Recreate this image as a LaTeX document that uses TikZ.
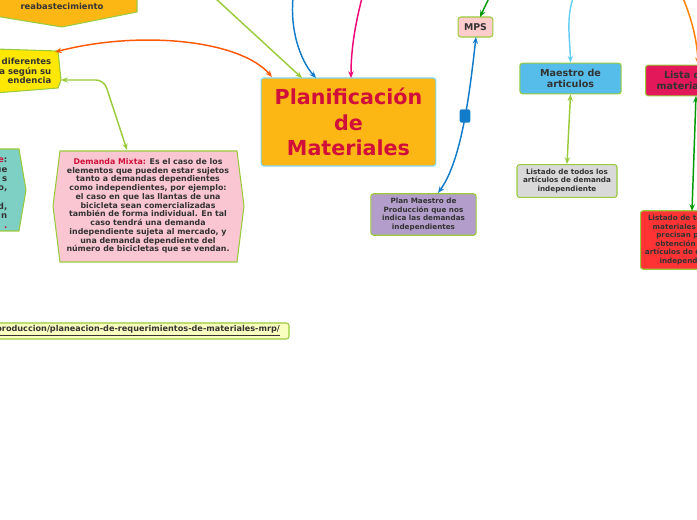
\documentclass[tikz,border=0pt]{standalone}
\usepackage{fontspec}
\setmainfont{DejaVu Sans}
\usetikzlibrary{arrows.meta}
\definecolor{cOr}{HTML}{FDB714}
\definecolor{cRed}{HTML}{D0103A}
\definecolor{cGr}{HTML}{9BCB3C}
\definecolor{cTxt}{HTML}{333333}
\definecolor{cPur}{HTML}{B39DCB}
\definecolor{cBlu}{HTML}{56BDEA}
\definecolor{cCrim}{HTML}{E2185B}
\definecolor{cPink}{HTML}{F9C6D2}
\definecolor{cTeal}{HTML}{7ECFC4}
\begin{document}
\begin{tikzpicture}[x=0.75pt,y=-0.75pt,
 box/.style={draw=cGr,line width=0.8pt,rounded corners=2pt,align=center,text=cTxt,font=\bfseries},
 con/.style={line width=1.1pt,-{Stealth[length=5pt,width=4pt]}},
 bcon/.style={line width=1.1pt,{Stealth[length=5pt,width=4pt]}-{Stealth[length=5pt,width=4pt]}},
 sm/.style={font=\fontsize{5.4}{6.4}\selectfont\bfseries}]
\useasboundingbox (0,0) rectangle (697,520);
\begin{scope}
\clip (0,0) rectangle (697,520);
% top-left orange
\draw[fill=cOr,draw=cGr,line width=0.8pt] (-5,-5) -- (137,-5) -- (137,12) -- (62,27) -- (-5,16) -- cycle;
\node[text=cTxt,font=\fontsize{6.3}{7}\selectfont\bfseries] (reab) at (62,6) {reabastecimiento};
% yellow
\draw[fill=yellow!90!orange,draw=cGr,line width=0.8pt] (-5,49) -- (58,51) -- (61,80) -- (58,88) -- (-5,93) -- cycle;
\node[text=cTxt,align=right,anchor=east,font=\fontsize{6.4}{7.2}\selectfont\bfseries] (yel) at (56,71) {s diferentes\\a según su\\endencia};
\coordinate (yelR) at (61,80);
\coordinate (yelT) at (55,52);
% teal
\draw[fill=cTeal,draw=cGr,line width=0.8pt] (-5,149) -- (19,149) -- (26,190) -- (19,231) -- (-5,231) -- cycle;
\node[text=cTxt,align=right,anchor=north east,font=\fontsize{6.4}{7}\selectfont\bfseries] (teal) at (12,152) {\textcolor{cRed}{te}:\\ue\\s\\lo,\\ \\d,\\n\\\textcolor{cRed}{.}};
% pink
\draw[fill=cPink,draw=cGr,line width=0.8pt] (60,151) -- (237,151) -- (244,206) -- (237,262) -- (60,262) -- (53,206) -- cycle;
\node[text=cTxt,align=center,font=\fontsize{5.9}{6.55}\selectfont\bfseries] (mix) at (148,206) {\textcolor{cRed}{Demanda Mixta:} Es el caso de los\\elementos que pueden estar sujetos\\tanto a demandas dependientes\\como independientes, por ejemplo:\\el caso en que las llantas de una\\bicicleta sean comercializadas\\también de forma individual. En tal\\caso tendrá una demanda\\independiente sujeta al mercado, y\\una demanda dependiente del\\número de bicicletas que se vendan.};
% link
\draw[fill=green!10!yellow!25,draw=cGr,line width=0.8pt,rounded corners=2pt] (-5,323) rectangle (289,339);
\node[text=cTxt,font=\fontsize{6.1}{7}\selectfont\bfseries] (link) at (138,331) {\underline{produccion/planeacion-de-requerimientos-de-materiales-mrp/}};
% central
\node[box,draw=cyan!50,fill=cOr,text=cRed,minimum width=131pt,minimum height=66pt,font=\fontsize{15.5}{19}\selectfont\bfseries] (c) at (348.5,122) {Planificación\\de\\Materiales};
% right nodes
\node[box,fill=pink!80,minimum width=26pt,minimum height=15pt,font=\fontsize{7}{8}\selectfont\bfseries] (mps) at (475.5,27) {MPS};
\node[box,sm,fill=cPur,minimum width=79pt,minimum height=31pt] (plan) at (423.5,214.5) {Plan Maestro de\\Producción que nos\\indica las demandas\\independientes};
\node[box,fill=cBlu,minimum width=76pt,minimum height=23pt,font=\fontsize{7.2}{8.5}\selectfont\bfseries] (ma) at (570.5,78.5) {Maestro de\\articulos};
\node[box,sm,fill=gray!30,minimum width=75pt,minimum height=24pt] (lt) at (567,181) {Listado de todos los\\artículos de demanda\\independiente};
\node[box,fill=cCrim,minimum width=60pt,minimum height=23pt,font=\fontsize{7.2}{8.5}\selectfont\bfseries,anchor=west] (lm) at (645,80.5) {Lista de\\materiales};
\node[box,sm,fill=red!80!white,minimum width=70pt,minimum height=43pt,anchor=west] (rd) at (640,240) {Listado de todos los\\materiales que se\\precisan para la\\obtención de los\\artículos de demanda\\independiente};
% connectors
\draw[bcon,draw=orange!70!red] (yelT) .. controls (140,30) and (240,40) .. (272,77);
\draw[bcon,draw=cGr,rounded corners=6pt] (yelR) -- (104,80) -- (127,150);
\coordinate (a1) at (215,-2); \draw[con,draw=cGr] (a1) -- (302,78);
\coordinate (a2) at (293,-2); \draw[con,draw=cyan!60!blue] (a2) .. controls (290,30) and (300,60) .. (316,78);
\coordinate (a3) at (362,-2); \draw[con,draw=magenta!80!red] (a3) .. controls (355,25) and (351,50) .. (351,78);
\coordinate (mpsB) at (476,37); \coordinate (planT) at (438,193);
\draw[bcon,draw=cyan!60!blue] (mpsB) .. controls (470,90) and (462,160) .. (planT);
\node[fill=cyan!60!blue,rounded corners=1.5pt,minimum width=8pt,minimum height=10pt,inner sep=0] (sq) at (465,116) {};
\coordinate (a4) at (489,-2); \coordinate (mpsT) at (480,17);
\draw[con,draw=green!60!black] (a4) -- (mpsT);
\coordinate (a5) at (573,-2); \draw[con,draw=cyan!60] (a5) .. controls (566,20) and (570,40) .. (ma.north);
\coordinate (a6) at (683,-2); \draw[con,draw=orange] (a6) .. controls (692,20) and (697,40) .. (698,64);
\draw[bcon,draw=cGr] (ma.south) -- (lt.north);
\draw[bcon,draw=green!60!black] (696,96) -- (692,211);
\end{scope}
\end{tikzpicture}
\end{document}
